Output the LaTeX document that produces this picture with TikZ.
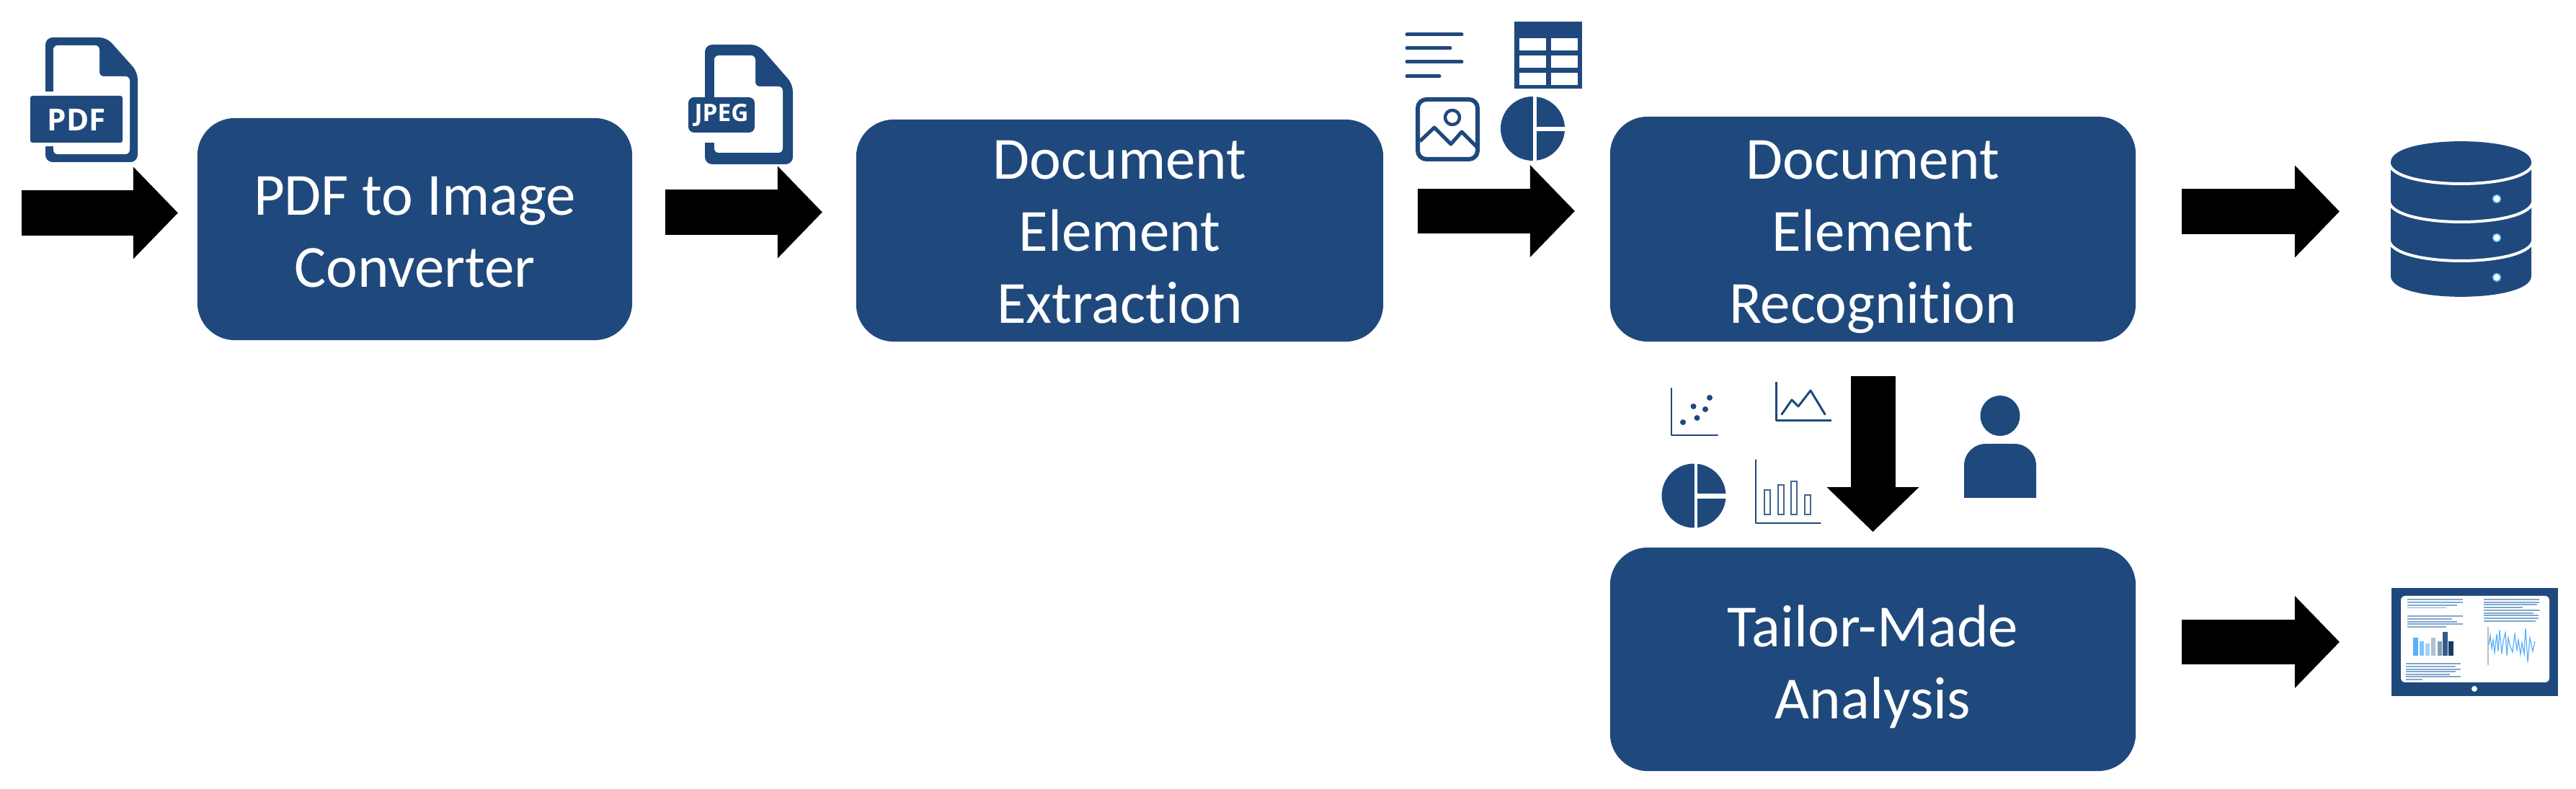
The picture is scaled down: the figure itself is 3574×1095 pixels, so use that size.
\documentclass[tikz,border=0pt]{standalone}
\usepackage{fontspec}
\setmainfont{Carlito}[Ligatures=NoCommon]
\newfontfamily\iconfont{Open Sans}
\usepackage{tikz}
\usetikzlibrary{arrows.meta}
\definecolor{iconblue}{RGB}{31,73,125}
\definecolor{linetint}{RGB}{130,168,205}
\definecolor{wavetint}{RGB}{90,175,250}
\newcommand{\topgap}[1]{\rule{0pt}{#1pt}}

\begin{document}
\begin{tikzpicture}[x=0.01cm, y=-0.01cm,
  stepbox/.style={fill=iconblue, rounded corners=0.52cm, text=white, align=center, inner sep=0pt,
    font=\fontsize{23.6}{28.5}\selectfont},
  bigarrow/.style={line width=0.62cm, -{Triangle[length=0.62cm, width=1.24cm]}},
  iconfill/.style={fill=iconblue},
  iconline/.style={draw=iconblue, line cap=round, line join=round},
  tintline/.style={draw=linetint, line width=0.015cm},
  dbdot/.style={fill=white, draw=wavetint, line width=0.015cm},]
\useasboundingbox (0,0) rectangle (3574,1095);
\node[stepbox, minimum width=6.03cm, minimum height=3.08cm] (1) at (575.5, 318)  {\topgap{17.4}PDF to Image\\Converter};
\node[stepbox, minimum width=7.31cm, minimum height=3.08cm] (2) at (1553.5, 320)  {\topgap{16.4}Document\\Element\\Extraction};
\node[stepbox, minimum width=7.29cm, minimum height=3.12cm] (3) at (2598.5, 318)  {\topgap{21.4}Document\\Element\\Recognition};
\node[stepbox, minimum width=7.29cm, minimum height=3.1cm] (4) at (2598.5, 915)  {\topgap{22.5}Tailor-Made\\Analysis};
\coordinate (5) at (30, 295.5);
\coordinate (6) at (247, 295.5);
\coordinate (7) at (923, 294.5);
\coordinate (8) at (1141, 294.5);
\coordinate (9) at (1967, 293);
\coordinate (10) at (2185, 293);
\coordinate (11) at (3027, 293.5);
\coordinate (12) at (3246, 293.5);
\coordinate (13) at (3027, 891);
\coordinate (14) at (3246, 891);
   \draw [bigarrow] (5)--(6);
   \draw [bigarrow] (7)--(8);
   \draw [bigarrow] (9)--(10);
   \draw [bigarrow] (11)--(12);
   \draw [bigarrow] (13)--(14);
   \draw [bigarrow, shorten <=0.47cm, shorten >=0.21cm] (3)--(4);

\fill[iconfill, rounded corners=0.1cm] (63,52)--(148,52)--(191,100)--(191,225)--(63,225)--cycle;
\fill[white, rounded corners=0.06cm] (74,63)--(138,63)--(138,106)--(180,106)--(180,214)--(74,214)--cycle;
\fill[white] (60,127) rectangle (74,203);
\fill[iconfill, rounded corners=0.03cm] (42,133) rectangle (170,198);
\node[text=white, inner sep=0pt, font=\iconfont\fontsize{12}{12}\selectfont\bfseries] (15) at (106,166) {PDF};

\fill[iconfill, rounded corners=0.1cm] (978,62)--(1052,62)--(1100,117)--(1100,228)--(978,228)--cycle;
\fill[white, rounded corners=0.06cm] (991,77)--(1048,77)--(1048,120)--(1086,120)--(1086,212)--(991,212)--cycle;
\fill[white] (975,184) rectangle (991,198);
\fill[iconfill, rounded corners=0.08cm] (955,135) rectangle (1047,184);
\node[text=white, inner sep=0pt, font=\iconfont\fontsize{9.5}{10}\selectfont\bfseries] (16) at (1001,160) {JPEG};

\foreach \y/\e in {48/2028, 67/2012, 86/2028, 106/1997}
  \draw[iconline, line width=0.05cm] (1952,\y)--(\e,\y);

\fill[iconfill] (2101,30) rectangle (2195,123);
\foreach \cx/\cy in {2108/53, 2152/53, 2108/77, 2152/77, 2108/101, 2152/101}
  \fill[white] (\cx,\cy) rectangle +(37,17);

\draw[iconline, line width=0.06cm, rounded corners=0.12cm] (1967,138) rectangle (2050,221);
\draw[iconline, line width=0.045cm] (2015,163) circle [radius=10];
\draw[iconline, line width=0.05cm, line cap=butt] (1970,196)--(1990,177)--(2013,200)--(2028,183)--(2049,204);

\fill[iconfill] (2126.5,178.5) circle [radius=44.5];
\draw[white, line width=0.05cm] (2129.5,132)--(2129.5,225);
\draw[white, line width=0.06cm] (2129.5,179)--(2173,179);

\draw[iconline, line width=0.025cm] (2319,539)--(2319,604)--(2383,604);
\foreach \dx/\dy in {2372/552, 2349.5/564, 2366/568, 2354.5/580, 2335/586}
  \fill[iconfill] (\dx,\dy) circle [radius=4];

\draw[iconline, line width=0.03cm, line cap=butt] (2464,530)--(2464,584)--(2541,584);
\draw[iconline, line width=0.03cm] (2472,575)--(2486,555)--(2495,564)--(2512,542)--(2532,575);

\fill[iconfill] (2350,688) circle [radius=44.5];
\draw[white, line width=0.04cm] (2353,641)--(2353,735);
\draw[white, line width=0.065cm] (2353,688.5)--(2397,688.5);

\draw[iconline, line width=0.012cm] (2436,638)--(2436,726)--(2526,726);
\foreach \bx/\bt in {2448/680, 2467/673, 2485/668, 2504/687}
  \draw[iconblue!85!white, line width=0.018cm] (\bx,\bt) rectangle (\bx+8,714);

\fill[iconfill] (2775,577) ellipse [x radius=27.5, y radius=28];
\fill[iconfill] (2725,691) [rounded corners=0.3cm] -- (2725,616) -- (2825,616) [sharp corners] -- (2825,691) -- cycle;

\fill[iconfill] (3317,225)--(3317,383) .. controls (3317,421.5) and (3512,421.5) .. (3512,383)--(3512,225) .. controls (3512,186.5) and (3317,186.5) .. (3317,225)--cycle;
\foreach \ay in {228, 281, 335}
  \draw[white, line width=0.04cm] (3315,\ay) .. controls (3325,\ay+36) and (3504,\ay+36) .. (3514,\ay);
\foreach \ay in {276, 330, 385}
  \draw[dbdot] (3464,\ay) circle [radius=5.5];

\fill[iconfill] (3318,816) rectangle (3549,966);
\fill[white, rounded corners=0.06cm] (3331,827) rectangle (3537,947);
\fill[white] (3433,956) circle [radius=4];
\foreach \y/\e in {832/3417, 836/3417, 840/3409, 843.5/3394, 855/3417, 859/3402, 863/3409, 866/3417, 870/3394}
  \draw[tintline] (3340,\y)--(\e,\y);
\foreach \y/\e in {921/3414, 925/3407, 929/3414, 932/3407, 936/3399, 939/3414, 943/3361}
  \draw[tintline] (3338,\y)--(\e,\y);
\foreach \y/\e in {832/3523, 836/3523, 839/3520, 843/3500, 847/3524, 851/3515, 854/3522, 858/3522, 862/3518}
  \draw[tintline] (3446,\y)--(\e,\y);
\fill[wavetint] (3348.3,885) rectangle (3354.7,910);
\fill[wavetint!75!white] (3357,890) rectangle (3363,910);
\fill[wavetint!55!white] (3365,893) rectangle (3370.7,910);
\fill[iconblue!35!white] (3373,885) rectangle (3379.3,910);
\fill[iconblue!55!white] (3381.7,890) rectangle (3387.7,910);
\fill[iconblue!90!white] (3389.3,877) rectangle (3395.7,910);
\fill[iconblue!80!black] (3397.3,890) rectangle (3404,910);
\draw[black!25, line width=0.012cm] (3452,870)--(3452,923);
\draw[wavetint, line width=0.012cm] (3453,895)--(3455,882)--(3457,900)--(3459,888)--(3461,906)--(3464,880)--(3466,904)--(3468,874)--(3471,908)--(3473,890)--(3476,878)--(3478,910)--(3480,885)--(3483,898)--(3486,905)--(3489,880)--(3492,902)--(3494,888)--(3497,908)--(3499,892)--(3502,908)--(3504,872)--(3507,919)--(3510,885)--(3512,895)--(3514,904)--(3517,890);
\end{tikzpicture}
\end{document}
